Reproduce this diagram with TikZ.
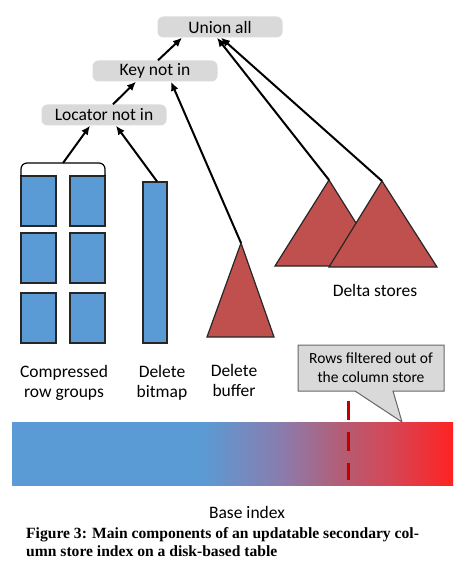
\documentclass[tikz,border=0pt]{standalone}
\usepackage{fontspec}
\setmainfont{Carlito}
\newfontfamily\capfont{Liberation Serif}
\usepackage{tikz}
\usetikzlibrary{arrows.meta}
\usetikzlibrary{positioning}
\usetikzlibrary{calc}
\definecolor{opgray}{HTML}{D9D9D9}
\definecolor{colblue}{HTML}{5B9BD5}
\definecolor{treered}{HTML}{C0504D}
\definecolor{barred}{HTML}{FF2222}
\definecolor{barpurple}{HTML}{8A7CAE}
\definecolor{barmauve}{HTML}{B85A70}
\definecolor{barrose}{HTML}{D54656}
\definecolor{cutred}{HTML}{C00000}
\pgfdeclarehorizontalshading{barshade}{100bp}{color(0bp)=(colblue); color(25bp)=(colblue); color(46.5bp)=(colblue); color(55.5bp)=(barpurple); color(63bp)=(barmauve); color(68bp)=(barrose); color(75bp)=(barred); color(100bp)=(barred)}
\tikzstyle{op}=[fill=opgray,rounded corners=6pt,minimum width=125pt,minimum height=21pt,inner sep=0pt,font=\fontsize{17.5}{19}\selectfont]
\tikzstyle{seg}=[draw=black!85,fill=colblue,line width=1.2pt,minimum width=35pt,minimum height=50pt,inner sep=0pt]
\tikzstyle{tree}=[draw=black!85,fill=treered,line width=1.2pt,line join=miter]
\tikzstyle{flow}=[line width=2pt,-{Latex[length=9pt,width=8pt]}]
\tikzstyle{lbl}=[align=center,font=\fontsize{17.5}{20}\selectfont]

\begin{document}
\begin{tikzpicture}[x=1pt,y=-1pt]
\useasboundingbox (0,0) rectangle (474,567);
% operators
\node [op] (u) at (220,27) {Union all};
\node [op] (k) at (155,71) {Key not in};
\node [op] (l) at (104,115) {Locator not in};

% compressed row groups
\foreach \c/\x in {1/38.5,2/87.5}{
  \foreach \r/\y in {1/201,2/258,3/318}{
    \node [seg] (g\c\r) at (\x,\y) {};
  }
}
\draw [line width=1.2pt,rounded corners=6pt] (21,176) -- (21,163) -- (105,163) -- (105,176);
\coordinate (br) at (63,163);

% delete bitmap
\node [seg,minimum width=24pt,minimum height=161pt] (bm) at (155,262.5) {};

% delete buffer and delta stores
\coordinate (db) at (241,243);
\draw [tree] (db) -- (274,337) -- (207,337) -- cycle;
\coordinate (d1) at (329,180);
\draw [tree] (d1) -- (383,266) -- (275,266) -- cycle;
\coordinate (d2) at (382,181);
\draw [tree] (d2) -- (437,267) -- (329,267) -- cycle;

% arrows
\draw [flow] ([xshift=3pt]k.north) -- ([xshift=-38pt]u.south);
\draw [flow] ([xshift=9pt]l.north) -- ([xshift=-19pt]k.south);
\draw [flow] (br) -- ([xshift=-14pt]l.south);
\draw [flow] ([xshift=2pt]bm.north) -- ([xshift=12pt]l.south);
\draw [flow] (db) -- ([xshift=16pt]k.south);
\draw [flow] (d1) -- ([xshift=-3pt]u.south);
\draw [flow] (d2) -- ([xshift=1pt]u.south);

% labels
\node [lbl] (crg) at (64,383) {Compressed\\row groups};
\node [lbl] (dbm) at (162,383) {Delete\\bitmap};
\node [lbl] (dbf) at (234,380) {Delete\\buffer};
\node [lbl] (ds) at (375,290) {Delta stores};

% callout
\draw [draw=black!60,fill=opgray,line width=1pt] (298,345) -- (444,345) -- (444,391) -- (393,391) -- (402,422) -- (355,391) -- (298,391) -- cycle;
\node [align=center,font=\fontsize{15.5}{19}\selectfont] (note) at (371,368) {Rows filtered out of\\the column store};

% base index
\shade [shading=barshade] (12,422) rectangle (453,485);
\draw [cutred,line width=3pt,dash pattern=on 19pt off 12pt] (348,401) -- (348,480);
\node [lbl] (bi) at (247,512) {Base index};

% caption
\node [anchor=north west,inner sep=0pt,align=left,font=\capfont\bfseries\fontsize{15.6}{18}\selectfont] (cap) at (26,527) {Figure 3: Main components of an updatable secondary col-\\umn store index on a disk-based table};
\end{tikzpicture}
\end{document}
